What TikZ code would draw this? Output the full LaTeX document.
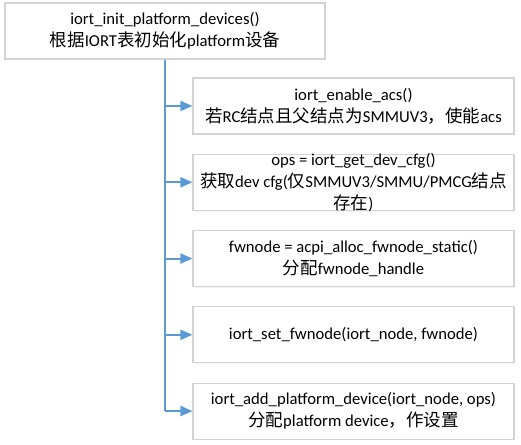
\documentclass[tikz,border=0pt]{standalone}
\usepackage{fontspec}
\setmainfont{Carlito}
\newfontfamily\cjk[Scale=1.05]{Noto Sans CJK SC}
\usetikzlibrary{positioning, arrows.meta, shadows}

\definecolor{boxline}{HTML}{D3D3D3}
\definecolor{flowblue}{HTML}{5B9BD5}

\begin{document}
\begin{tikzpicture}[x=0.75pt, y=-0.75pt,
    every node/.style = {draw = boxline, line width = 0.8pt, fill = white,
        minimum height = 42pt, align = center, inner ysep = 1pt,
        font = \fontsize{12.5}{16.5}\selectfont,
        drop shadow = {shadow xshift = 1pt, shadow yshift = -1pt, fill = black!9}},
    callbox/.style = {minimum width = 240.75pt},
    node distance = 14.4pt,
    flow/.style = {draw = flowblue, line width = 1.5pt,
        -{Triangle[length = 9pt, width = 7.5pt]}}]
\useasboundingbox (0,0) rectangle (521,445);

\node[minimum width = 240pt] (init) at (165,31)
    {iort\_init\_platform\_devices()\\{\cjk 根据}IORT{\cjk 表初始化}platform{\cjk 设备}};

\node[callbox] (acs) at (353.5,106)
    {iort\_enable\_acs()\\{\cjk 若}RC{\cjk 结点且父结点为}SMMUV3{\cjk ，使能}acs};
\node[callbox, below = of acs, inner ysep = -2pt] (cfg)
    {ops = iort\_get\_dev\_cfg()\\{\cjk 获取}dev cfg({\cjk 仅}SMMUV3/SMMU/PMCG{\cjk 结点}\\{\cjk 存在})};
\node[callbox, below = of cfg] (alloc)
    {fwnode = acpi\_alloc\_fwnode\_static()\\{\cjk 分配}fwnode\_handle};
\node[callbox, below = of alloc] (setfw)
    {iort\_set\_fwnode(iort\_node, fwnode)};
\node[callbox, below = of setfw] (adddev)
    {iort\_add\_platform\_device(iort\_node, ops)\\{\cjk 分配}platform device{\cjk ，作设置}};

% trunk and branches
\draw[draw = flowblue, line width = 1.5pt] (init.south) -- (init.south |- adddev.west);
\foreach \b in {acs, cfg, alloc, setfw, adddev}
    \draw[flow] (init.south |- \b.west) -- (\b.west);

\end{tikzpicture}
\end{document}
